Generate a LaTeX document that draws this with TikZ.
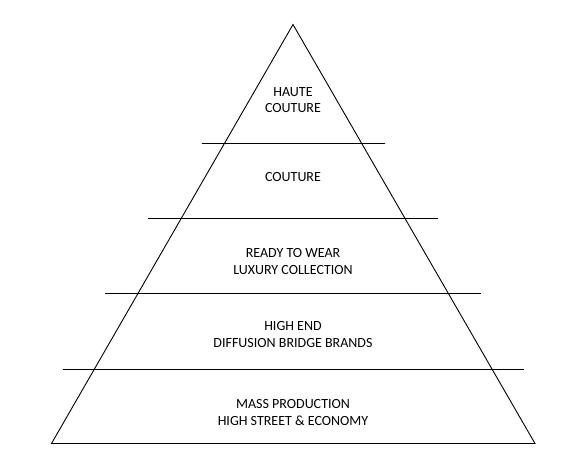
\documentclass[tikz,border=0pt]{standalone}
\usepackage{fontspec}
\setmainfont{Carlito}
\begin{document}
\begin{tikzpicture}[x=1pt,y=-1pt,
  edge/.style={draw=black,line width=0.9pt},
  lbl/.style={align=center,font=\fontsize{14}{16.5}\selectfont,inner sep=0pt}]
\useasboundingbox (0,0) rectangle (571,468);
\coordinate (apex) at (293,24.5);
\coordinate (bl) at (51.5,443.5);
\coordinate (br) at (535,443.5);
\draw[edge,line join=miter] (apex) -- (bl) -- (br) -- cycle;
\coordinate (l1a) at (201.5,143.5); \coordinate (l1b) at (384.5,143.5);
\coordinate (l2a) at (148,218.5); \coordinate (l2b) at (438,218.5);
\coordinate (l3a) at (105,293.5); \coordinate (l3b) at (481,293.5);
\coordinate (l4a) at (62.5,369.5); \coordinate (l4b) at (524,369.5);
\draw[edge] (l1a) -- (l1b);
\draw[edge] (l2a) -- (l2b);
\draw[edge] (l3a) -- (l3b);
\draw[edge] (l4a) -- (l4b);
\node[lbl] (t1) at (293,100) {HAUTE\\COUTURE};
\node[lbl] (t2) at (293,177) {COUTURE};
\node[lbl] (t3) at (293,261.5) {READY TO WEAR\\LUXURY COLLECTION};
\node[lbl] (t4) at (293,334.5) {HIGH END\\DIFFUSION BRIDGE BRANDS};
\node[lbl] (t5) at (293,412.5) {MASS PRODUCTION\\HIGH STREET \& ECONOMY};
\end{tikzpicture}
\end{document}
